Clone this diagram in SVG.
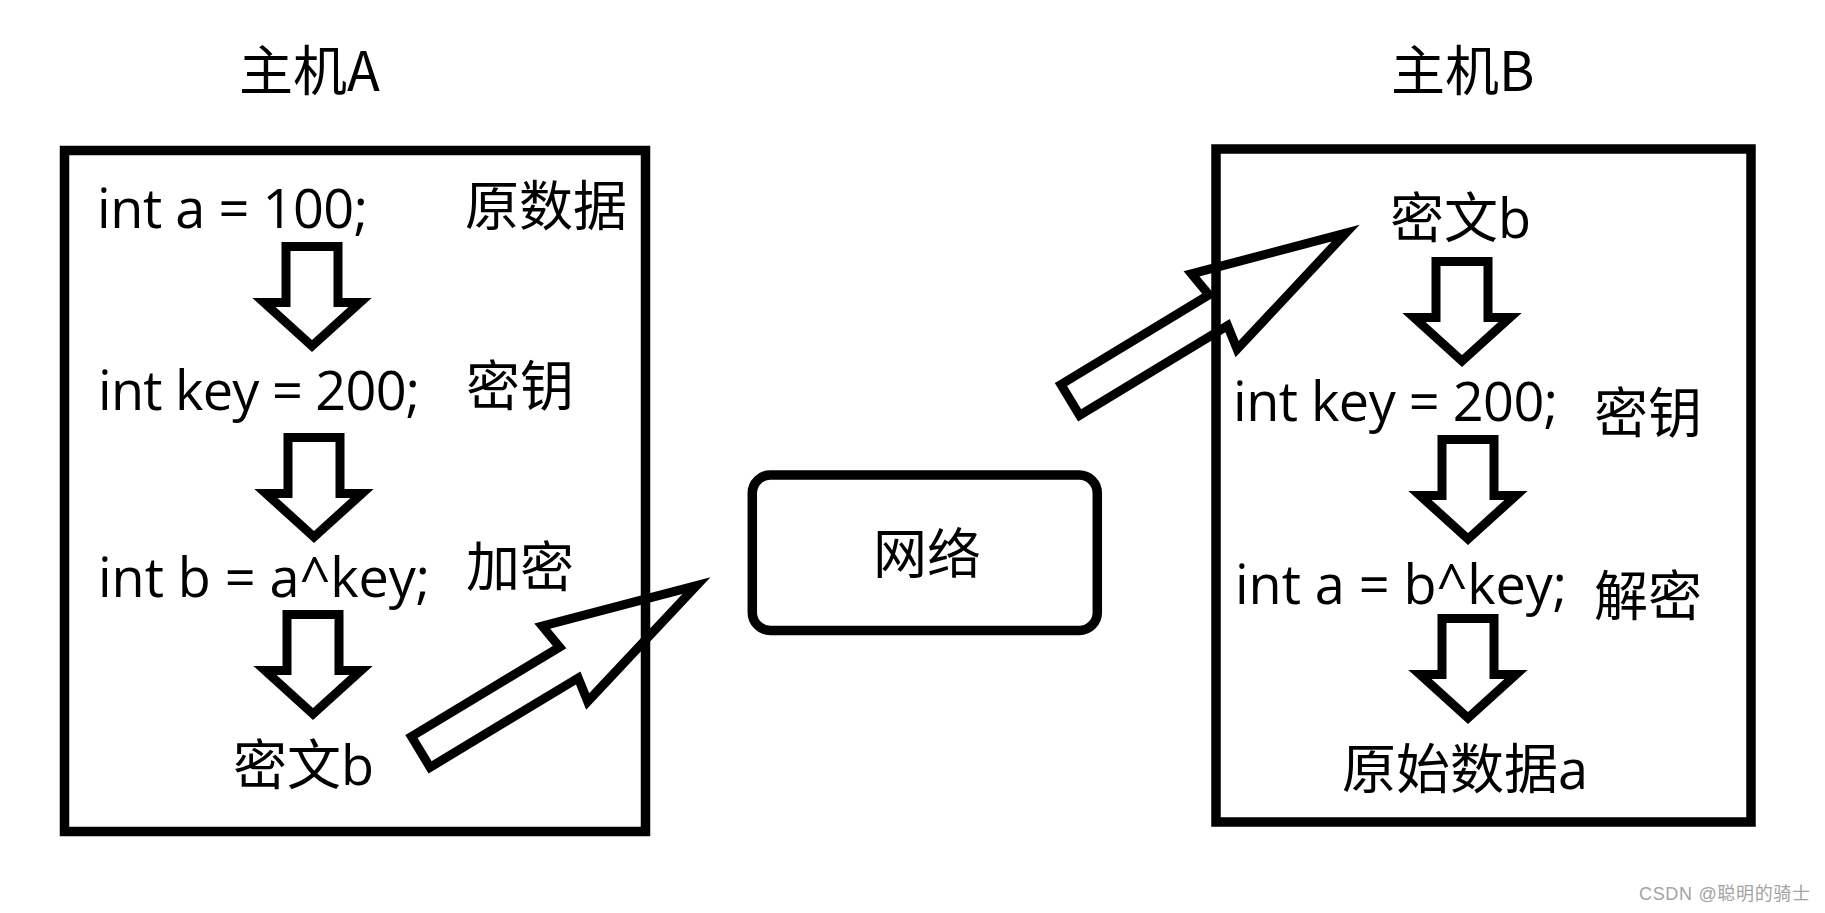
<svg xmlns="http://www.w3.org/2000/svg" width="1825" height="913" viewBox="0 0 1825 913">
<defs>
<style>
.t{font-family:"Open Sans","Noto Sans CJK SC",sans-serif;font-size:54px;fill:#000}
.c{font-family:"Noto Sans CJK SC",sans-serif;font-size:54px;fill:#000}
.box{fill:none;stroke:#000;stroke-width:9.5}
.ar{fill:none;stroke:#000;stroke-width:9;stroke-linejoin:miter;stroke-miterlimit:10}
.wm{font-family:"Liberation Sans","Noto Sans CJK SC",sans-serif;font-size:18px;fill:#a3a3a3}
</style>
<path id="down" d="M-26,4.5 L26,4.5 L26,60.5 L48,60.5 L0,104 L-48,60.5 L-26,60.5 Z"/>
<path id="diag" d="M5,-18 L178,-18 L174,-45 L327,0 L174,43 L178,18 L5,18 Z"/>
</defs>
<rect width="1825" height="913" fill="#fff"/>

<g id="hostA">
<text class="c" x="239" y="91">主机A</text>
<rect class="box" x="64.5" y="150.5" width="581" height="681"/>
<text class="t" x="97" y="228" textLength="271">int a = 100;</text>
<text class="c" x="465" y="226">原数据</text>
<text class="t" x="98" y="410" textLength="322">int key = 200;</text>
<text class="c" x="466" y="406">密钥</text>
<text class="t" x="98" y="597" textLength="332">int b = a^key;</text>
<text class="c" x="466" y="587">加密</text>
<text class="t" x="233" y="785">密文b</text>
<use href="#down" class="ar" transform="translate(312,242)"/>
<use href="#down" class="ar" transform="translate(314,433)"/>
<use href="#down" class="ar" transform="translate(313,610)"/>
</g>

<g id="network">
<rect class="box" x="752.3" y="475" width="345" height="155.5" rx="18" ry="18"/>
<text class="c" x="873" y="574">网络</text>
</g>

<g id="hostB">
<text class="c" x="1391" y="91">主机B</text>
<rect class="box" x="1216" y="149" width="535" height="673"/>
<text class="t" x="1390" y="238">密文b</text>
<text class="t" x="1233" y="421" textLength="325">int key = 200;</text>
<text class="c" x="1594" y="433">密钥</text>
<text class="t" x="1235" y="604" textLength="332">int a = b^key;</text>
<text class="c" x="1594" y="616">解密</text>
<text class="t" x="1342" y="789">原始数据a</text>
<use href="#down" class="ar" transform="translate(1462,257)"/>
<use href="#down" class="ar" transform="translate(1468,435)"/>
<use href="#down" class="ar" transform="translate(1468,614)"/>
</g>

<g id="connectors">
<use href="#diag" class="ar" transform="translate(416.5,754.5) rotate(-31.1)"/>
<use href="#diag" class="ar" transform="translate(1066,402.5) rotate(-31.2)"/>
</g>

<text class="wm" x="1639" y="900" textLength="171">CSDN @聪明的骑士</text>
</svg>
